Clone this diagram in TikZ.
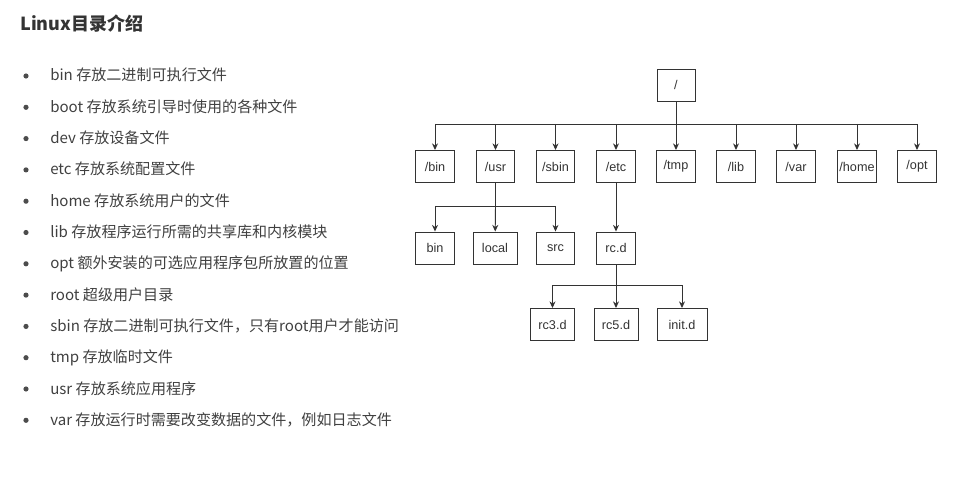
\documentclass[tikz,border=0pt]{standalone}
\usepackage{fontspec}
\setmainfont{Liberation Sans}
\newfontfamily\cjk{Noto Sans CJK SC}
\usetikzlibrary{arrows.meta}
\begin{document}
\begin{tikzpicture}[x=0.75pt,y=-0.75pt,
  box/.style={draw=black!80,line width=0.7pt,minimum width=29pt,minimum height=24pt,inner sep=0pt,font=\fontsize{9.5}{10}\selectfont,text=black!80},
  arr/.style={-{Stealth[length=5pt,width=4.5pt]},line width=0.7pt,draw=black!80},
  ln/.style={line width=0.7pt,draw=black!80},
  item/.style={anchor=base west,inner sep=0pt,font=\cjk\fontsize{11.3}{13}\selectfont,text=black!75}]
\useasboundingbox (0,0) rectangle (953,481);
\node[anchor=west,inner sep=0pt,font=\cjk\bfseries\fontsize{13.5}{15}\selectfont,text=black!80] (title) at (20,24) {Linux目录介绍};
\foreach \t [count=\i] in {bin 存放二进制可执行文件,boot 存放系统引导时使用的各种文件,dev 存放设备文件,etc 存放系统配置文件,home 存放系统用户的文件,lib 存放程序运行所需的共享库和内核模块,opt 额外安装的可选应用程序包所放置的位置,root 超级用户目录,{sbin 存放二进制可执行文件，只有root用户才能访问},tmp 存放临时文件,usr 存放系统应用程序,{var 存放运行时需要改变数据的文件，例如日志文件}}{
  \fill[black!70] (26,{76+31.3*(\i-1)}) circle (2.6);
  \node[item] (i\i) at (50,{81+31.3*(\i-1)}) {\t};
}
\node[box,minimum width=28.5pt] (root) at (676,85) {/};
\coordinate (busL) at (435,124);
\coordinate (busR) at (917,124);
\foreach \n/\x in {bin/435,usr/495.5,sbin/555.5,etc/616,tmp/676,lib/736,var/796,home/857,opt/917}{
  \node[box] (\n) at (\x,166.5) {/\n};
  \draw[arr] (\x,124) -- (\n);
}
\draw[ln] (busL) -- (busR);
\draw[ln] (root) -- (676,124);
\node[box] (ubin) at (435,248) {bin};
\node[box,minimum width=33pt] (local) at (495,248) {local};
\node[box] (src) at (555.5,248) {src};
\node[box] (rcd) at (616,248) {rc.d};
\draw[ln] (usr) -- (495.5,206);
\draw[ln] (435,206) -- (555.5,206);
\draw[arr] (435,206) -- (ubin);
\draw[arr] (495.5,206) -- (local);
\draw[arr] (555.5,206) -- (src);
\draw[arr] (etc) -- (rcd);
\node[box,minimum width=33.5pt] (rc3) at (552.5,324.5) {rc3.d};
\node[box,minimum width=33pt] (rc5) at (616,324.5) {rc5.d};
\node[box,minimum width=37.5pt] (init) at (682,324.5) {init.d};
\draw[ln] (rcd) -- (616,285);
\draw[ln] (552.5,285) -- (682,285);
\draw[arr] (552.5,285) -- (rc3);
\draw[arr] (616,285) -- (rc5);
\draw[arr] (682,285) -- (init);
\end{tikzpicture}
\end{document}
